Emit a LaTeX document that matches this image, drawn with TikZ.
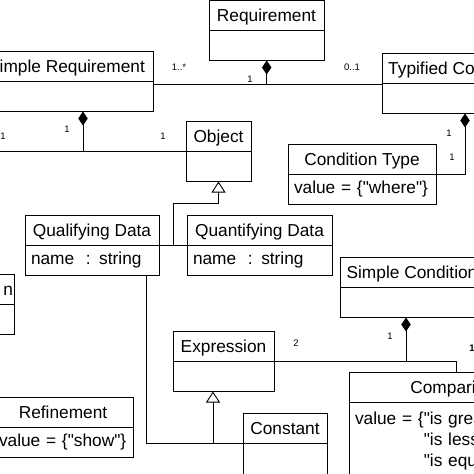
\documentclass[tikz,border=0pt]{standalone}
\usepackage{fontspec}
\setmainfont{Liberation Sans}[Ligatures=TeXOff]
\usetikzlibrary{arrows.meta,positioning}

\tikzset{
  kopf/.style={draw, line width=0.9pt, inner sep=0pt, outer sep=0pt,
    minimum height=30.5pt, text height=13pt, text depth=0.8pt,
    anchor=north west, font=\fontsize{17.3}{21}\selectfont},
  rumpf/.style={draw, line width=0.9pt, inner xsep=6pt, inner ysep=0pt, outer sep=0pt,
    minimum height=30pt, anchor=north, align=left, font=\fontsize{17.3}{21}\selectfont},
  zeile/.style={text height=11pt, text depth=2.2pt},
  mult/.style={inner sep=0pt, font=\fontsize{9.5}{11}\selectfont},
  verb/.style={line width=0.9pt},
  komp/.style={verb, {Diamond[length=14pt,width=9.5pt]}-},
  gen/.style={verb, {Triangle[open,length=11pt,width=14pt]}-},
}

\begin{document}
\begin{tikzpicture}[x=1pt, y=-1pt]
\useasboundingbox (0,0) rectangle (474,474);

% Klassen
\node[kopf, minimum width=115pt] (reqT) at (209,0) {Requirement};
\node[rumpf, minimum width=115pt] (reqB) at (reqT.south) {};

\node[kopf, minimum width=173pt] (sreqT) at (-20,51) {Simple Requirement};
\node[rumpf, minimum width=173pt] (sreqB) at (sreqT.south) {};

\node[kopf, minimum width=150pt] (tcondT) at (382,53) {Typified Condition};
\node[rumpf, minimum width=150pt] (tcondB) at (tcondT.south) {};

\node[kopf, minimum width=65pt] (objT) at (186,121) {Object};
\node[rumpf, minimum width=65pt] (objB) at (objT.south) {};

\node[kopf, minimum width=148pt] (ctypT) at (288,144) {Condition Type};
\node[rumpf, zeile, text width=136pt] (ctypB) at (ctypT.south) {value = \{"where"\}};

\node[kopf, minimum width=134pt] (qualT) at (25,215) {Qualifying Data};
\node[rumpf, zeile, text width=122pt] (qualB) at (qualT.south) {name\ \ : string};

\node[kopf, minimum width=145pt] (quantT) at (187,215) {Quantifying Data};
\node[rumpf, zeile, text width=133pt] (quantB) at (quantT.south) {name\ \ : string};

\node[kopf, minimum width=144pt] (scondT) at (340,257) {Simple Condition};
\node[rumpf, minimum width=144pt] (scondB) at (scondT.south) {};

\node[kopf, minimum width=74pt, text width=72pt, align=right] (linksT) at (-60,274) {n};
\node[rumpf, minimum width=74pt] (linksB) at (linksT.south) {};

\node[kopf, minimum width=101pt] (exprT) at (173,331) {Expression};
\node[rumpf, minimum width=101pt] (exprB) at (exprT.south) {};

\node[kopf, minimum width=140pt] (refT) at (-7,397) {Refinement};
\node[rumpf, zeile, text width=128pt] (refB) at (refT.south) {value = \{"show"\}};

\node[kopf, minimum width=84pt] (constT) at (243,413) {Constant};
\node[rumpf, minimum width=84pt, minimum height=33pt] (constB) at (constT.south) {};

\node[kopf, minimum width=216pt] (compT) at (349,372) {Comparison};
\node[rumpf, text width=204pt, inner ysep=9pt] (compB) at (compT.south)
  {value = \{"is greater than",\\
   \phantom{value = \{}"is less than",\\
   \phantom{value = \{}"is equal to"\}};

% Hilfspunkte
\coordinate (k1) at (266.7,84);
\coordinate (k2) at (83,0);
\coordinate (k3) at (465,0);
\coordinate (k4) at (406,361.5);
\coordinate (k5) at (456,0);
\coordinate (g1) at (173,203);
\coordinate (g2) at (213,0);
\coordinate (g3) at (146.7,0);
\coordinate (links) at (-20,0);

% Kompositionen
\draw[komp] (reqB.south -| k1) -- (k1);
\draw[verb] (sreqB.east |- k1) -- (tcondB.west |- k1);

\draw[komp] (sreqB.south -| k2) -- (k2 |- objT.south west);
\draw[verb] (links |- objT.south west) -- (objT.south west);

\draw[komp] (tcondB.south -| k3) |- (ctypT.south east);

\draw[komp] (scondB.south -| k4) -- (k4);
\draw[verb] (exprT.south east) -| (k5 |- compT.north);

% Generalisierungen
\draw[gen] (objB.south) |- (g1) -- (g1 |- qualT.south east);
\draw[verb] (qualT.south east) -- (quantT.south west);

\draw[gen] (exprB.south -| g2) -- (g2 |- constT.south west);
\draw[verb] (qualB.south -| g3) |- (constT.south west);

% Multiplizitaeten
\node[mult] (m1) at (179,67) {1..*};
\node[mult] (m2) at (250,79) {1};
\node[mult] (m3) at (352,67) {0..1};
\node[mult] (m4) at (3,136) {1};
\node[mult] (m5) at (67,129) {1};
\node[mult] (m6) at (163,136) {1};
\node[mult] (m7) at (449,133) {1};
\node[mult] (m8) at (452,157) {1};
\node[mult] (m9) at (390,336) {1};
\node[mult] (m10) at (296,343) {2};
\node[mult, font=\fontsize{9.5}{11}\selectfont\bfseries] (m11) at (472,348) {1};

\end{tikzpicture}
\end{document}
